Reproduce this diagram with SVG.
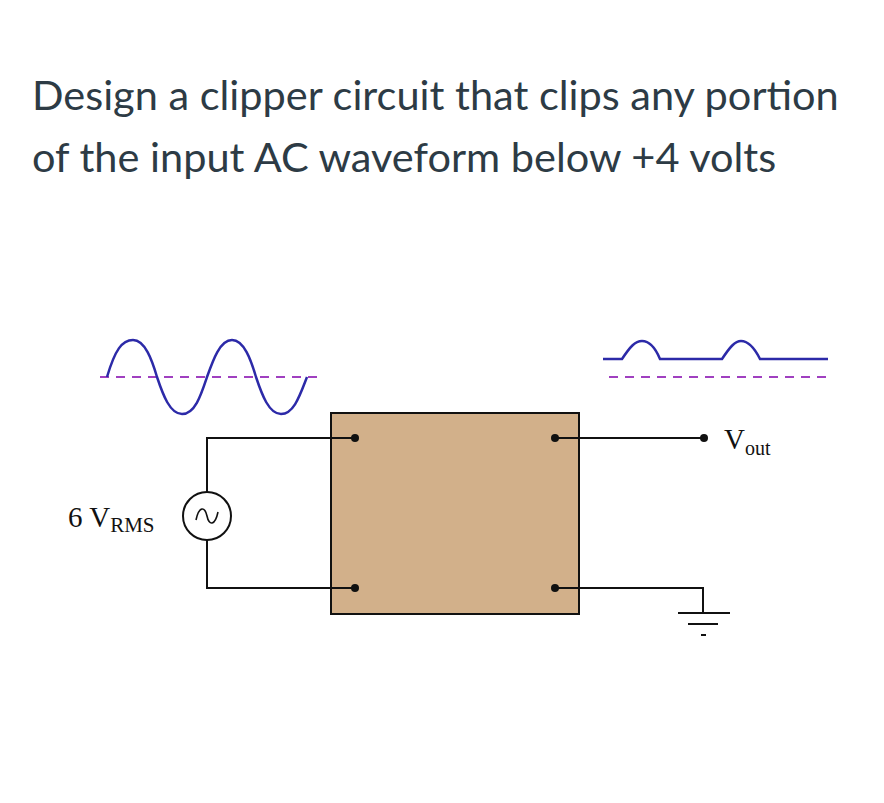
<svg xmlns="http://www.w3.org/2000/svg" width="884" height="803" viewBox="0 0 884 803">
<style>
.t{font-family:Lato,"Open Sans",sans-serif;font-size:41.5px;fill:#2d3b45}
.w{stroke:#111;stroke-width:2;fill:none}
.s{stroke:#2c2aa8;stroke-width:2.5;fill:none}
.d{stroke:#a040c0;stroke-width:2;stroke-dasharray:9,7;fill:none}
.l{font-family:"Liberation Serif",serif;fill:#111}
</style>
<rect width="884" height="803" fill="#fff"/>
<text class="t" x="32" y="110">Design a clipper circuit that clips any portion</text>
<text class="t" x="32" y="172">of the input AC waveform below +4 volts</text>
<g id="input-wave">
<line class="d" x1="100" y1="377" x2="320" y2="377"/>
<path class="s" d="M107,377 C115,350 122,340 133,340 C145,340 152,360 157,377 C163,395 170,414 182,414 C195,414 201,395 207,377 C213,360 220,340 232,340 C244,340 251,360 256,377 C262,395 269,414 281,414 C294,414 300,395 307,377"/>
</g>
<g id="output-wave">
<line class="d" x1="609" y1="377" x2="828" y2="377"/>
<path class="s" d="M603,359 H622 C630,347 635,341 642,341 C649,341 655,347 660,359 H722 C730,347 735,341 741,341 C748,341 754,347 760,359 H828"/>
</g>
<g id="box"><rect x="331" y="413" width="248" height="201" fill="#d2b08a" stroke="#111" stroke-width="2"/></g>
<g id="source">
<circle cx="207" cy="516" r="24" fill="#fff" stroke="#111" stroke-width="2"/>
<path d="M196,520 C199,506 205,506 207,516 C209,526 215,526 218,512" fill="none" stroke="#111" stroke-width="1.6"/>
<text class="l" x="68" y="527" font-size="29">6 V<tspan font-size="21" dy="5">RMS</tspan></text>
</g>
<g id="connectors">
<path class="w" d="M207,492 V438 H355"/>
<path class="w" d="M207,540 V588 H355"/>
<path class="w" d="M555,438 H704"/>
<path class="w" d="M555,588 H703 V613"/>
<path class="w" d="M678,613 H730 M688,624 H718 M701,635 H706"/>
<circle cx="355" cy="438" r="4" fill="#111"/>
<circle cx="355" cy="588" r="4" fill="#111"/>
<circle cx="555" cy="438" r="4" fill="#111"/>
<circle cx="555" cy="588" r="4" fill="#111"/>
<circle cx="704" cy="438" r="4" fill="#111"/>
</g>
<g id="vout"><text class="l" x="724" y="449" font-size="29">V<tspan font-size="20" dy="6">out</tspan></text></g>
</svg>
